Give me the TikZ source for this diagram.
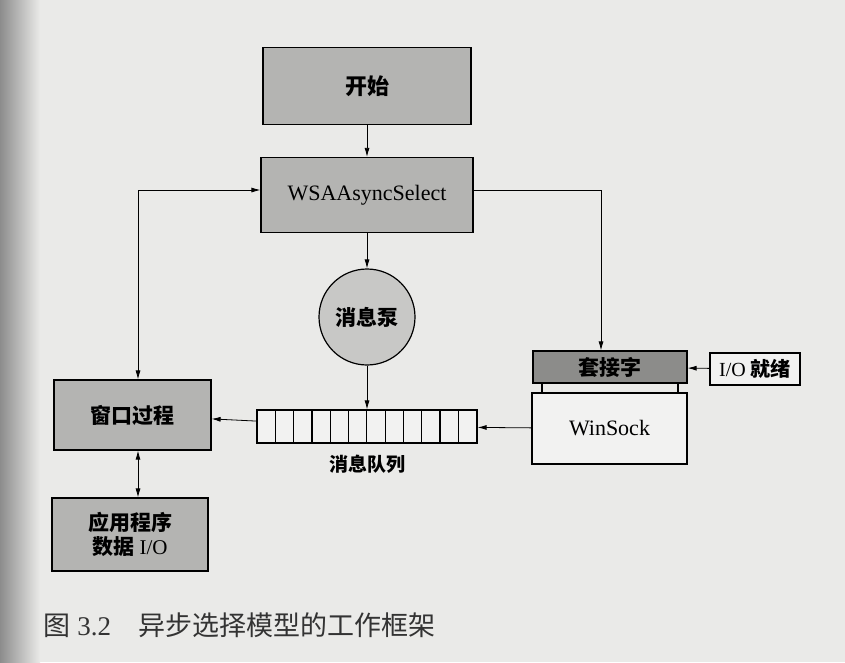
\documentclass[tikz,border=0pt]{standalone}
\usepackage{fontspec}
\setmainfont{Liberation Serif}
\newfontfamily\cjk{Noto Sans CJK SC}
\usetikzlibrary{arrows.meta}
\definecolor{bg}{HTML}{EAEAE8}
\definecolor{boxg}{HTML}{B4B4B2}
\definecolor{sockg}{HTML}{8C8C8A}
\definecolor{circg}{HTML}{C8C8C6}
\begin{document}
\begin{tikzpicture}[x=1pt,y=-1pt,
  box/.style={draw=black,line width=1.2pt,fill=boxg,inner sep=0pt,font=\fontsize{22}{25}\selectfont},
  arr/.style={-{Latex[length=9pt,width=5pt]},line width=0.8pt},
  darr/.style={{Latex[length=9pt,width=5pt]}-{Latex[length=9pt,width=5pt]},line width=0.8pt}]
\fill[bg] (0,0) rectangle (845,662);
\shade[left color=black!45,right color=bg] (0,0) rectangle (40,662);
\useasboundingbox (0,0) rectangle (845,662);
\node[box,minimum width=208pt,minimum height=77pt] (start) at (367,86) {\cjk\bfseries 开始};
\node[box,minimum width=212pt,minimum height=75pt] (wsa) at (367,195) {WSAAsyncSelect};
\node[circle,draw,line width=1.2pt,fill=circg,minimum size=96pt,inner sep=0pt,font=\fontsize{21}{24}\selectfont] (pump) at (367,317) {\cjk\bfseries 消息泵};
\node[box,fill=sockg,minimum width=154pt,minimum height=32pt,font=\fontsize{21}{24}\selectfont] (sock) at (610,367) {\cjk\bfseries 套接字};
\node[box,fill=white!40!bg,minimum width=155pt,minimum height=71pt] (ws) at (609.5,428.5) {WinSock};
\draw[line width=1.2pt] (542,383) -- (542,393) (678,383) -- (678,393);
\node[box,fill=white!40!bg,minimum width=90pt,minimum height=32pt,font=\fontsize{20}{24}\selectfont] (io) at (755,369) {I/O {\cjk\bfseries 就绪}};
\node[box,minimum width=157pt,minimum height=70pt,font=\fontsize{21}{24}\selectfont] (win) at (132.5,415) {\cjk\bfseries 窗口过程};
\node[box,minimum width=156pt,minimum height=73pt,align=center,font=\fontsize{21}{24}\selectfont] (app) at (130,534.5) {\cjk\bfseries 应用程序\\{\cjk\bfseries 数据} I/O};
\node[draw,line width=1.2pt,fill=white!40!bg,minimum width=220pt,minimum height=33pt,inner sep=0pt] (q) at (367,426.5) {};
\foreach \i in {1,...,11} \draw[line width=1.2pt] (257+\i*18.3,410) -- (257+\i*18.3,443);
\node[font=\cjk\bfseries\fontsize{19}{22}\selectfont] (ql) at (367,464) {消息队列};
\draw[arr] (start) -- (wsa);
\draw[arr] (wsa) -- (pump);
\draw[arr] (pump) -- (q);
\draw[arr] (wsa.east |- 0,190) -| (sock.north -| 601,0);
\draw[darr] (wsa.west |- 0,190) -| (win.north -| 138,0);
\draw[arr] (q) -- (win);
\draw[arr] (ws) -- (q);
\draw[arr] (io) -- (sock);
\draw[darr] (win.south -| 138,0) -- (app.north -| 138,0);
\node[anchor=west,font=\fontsize{27}{30}\selectfont,text=black!80] (cap) at (40,625) {{\cjk 图} 3.2\quad{\cjk 异步选择模型的工作框架}};
\end{tikzpicture}
\end{document}
